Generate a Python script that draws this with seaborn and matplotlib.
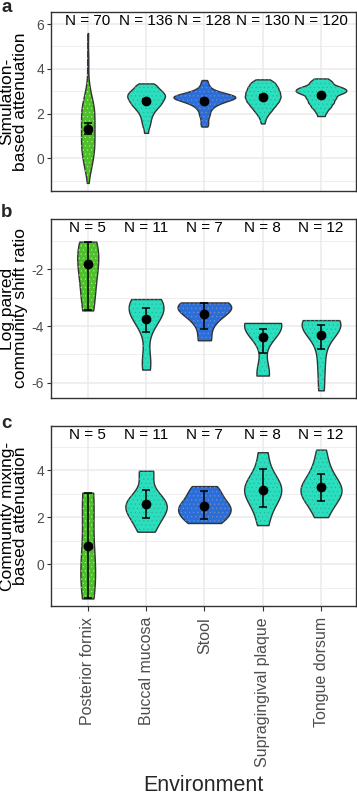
import numpy as np
import pandas as pd
import matplotlib
matplotlib.use("Agg")
import matplotlib.pyplot as plt
import matplotlib.transforms as mtransforms
from matplotlib.patches import PathPatch
import seaborn as sns

sns.set_theme(style="white")
plt.rcParams['font.family'] = ['Liberation Sans', 'DejaVu Sans']
plt.rcParams['axes.unicode_minus'] = False
plt.rcParams['hatch.linewidth'] = 0.4

categories = ["Posterior fornix", "Buccal mucosa", "Stool", "Supragingival plaque", "Tongue dorsum"]
colors = ["#4FBF2B", "#2BDEBE", "#2B6ED9", "#2BDEBE", "#2BDEBE"]

# ---------- panel a: simulation-based attenuation (value levels + counts) ----------
a_fornix_levels = [-1.1, -0.8, -0.5, -0.2, 0.1, 0.4, 0.7, 1.0, 1.3, 1.6, 1.9, 2.2, 2.5, 2.8, 3.1, 3.4, 4.0, 4.6, 5.6]
a_fornix_counts = [1, 1, 3, 4, 5, 6, 6, 6, 6, 6, 6, 6, 5, 3, 2, 1, 1, 1, 1]
a_buccal_levels = [3.35, 3.2, 3.0, 2.8, 2.6, 2.4, 2.2, 2.0, 1.8, 1.6, 1.4, 1.14]
a_buccal_counts = [7, 12, 19, 23, 20, 17, 12, 8, 6, 5, 4, 3]
a_stool_levels = [3.5, 3.4, 3.3, 3.2, 3.1, 3.0, 2.9, 2.8, 2.7, 2.6, 2.5, 2.4, 2.3, 2.2, 2.1, 2.0, 1.9, 1.8, 1.7, 1.6, 1.5, 1.42]
a_stool_counts = [2, 2, 2, 3, 4, 7, 12, 18, 19, 14, 10, 7, 5, 4, 3, 3, 3, 2, 2, 2, 2, 2]
a_supra_levels = [3.53, 3.35, 3.15, 2.95, 2.75, 2.55, 2.35, 2.15, 1.95, 1.75, 1.56]
a_supra_counts = [7, 14, 17, 19, 20, 18, 14, 10, 6, 3, 2]
a_tongue_levels = [3.57, 3.4, 3.2, 3.05, 2.9, 2.7, 2.5, 2.3, 2.1, 1.89]
a_tongue_counts = [6, 11, 16, 21, 18, 15, 13, 10, 6, 4]
a_n = [70, 136, 128, 130, 120]
a_mean = [1.33, 2.55, 2.58, 2.76, 2.82]
a_lo = [1.08, 2.47, 2.51, 2.68, 2.75]
a_hi = [1.60, 2.63, 2.65, 2.84, 2.89]

# ---------- panel b: log paired community shift ratio ----------
b_fornix = [-1.03, -1.4, -1.9, -2.6, -3.45]
b_buccal = [-3.05, -3.08, -3.15, -3.25, -3.35, -3.45, -3.55, -3.75, -4.0, -5.1, -5.53]
b_stool = [-3.17, -3.2, -3.3, -3.4, -3.55, -3.9, -4.5]
b_supra = [-3.89, -3.9, -3.93, -3.97, -4.05, -4.12, -5.62, -5.74]
b_tongue = [-3.79, -3.8, -3.82, -3.85, -3.9, -3.95, -4.0, -4.1, -4.3, -4.9, -5.5, -6.26]
b_n = [5, 11, 7, 8, 12]
b_mean = [-1.81, -3.74, -3.57, -4.40, -4.31]
b_lo = [-3.45, -4.21, -4.12, -4.93, -4.81]
b_hi = [-1.03, -3.37, -3.19, -4.11, -3.98]

# ---------- panel c: community mixing-based attenuation ----------
c_fornix = [-1.45, -0.3, 0.1, 2.5, 3.05]
c_buccal = [3.98, 3.95, 2.9, 2.8, 2.6, 2.5, 2.4, 2.2, 2.1, 1.6, 1.39]
c_stool = [3.33, 3.0, 2.6, 2.4, 2.3, 1.97, 1.76]
c_supra = [4.77, 3.8, 3.4, 3.25, 3.1, 2.9, 2.47, 1.67]
c_tongue = [4.88, 4.3, 3.9, 3.6, 3.4, 3.3, 3.15, 3.0, 2.9, 2.75, 2.4, 2.01]
c_n = [5, 11, 7, 8, 12]
c_mean = [0.78, 2.57, 2.48, 3.17, 3.28]
c_lo = [-1.45, 1.98, 1.93, 2.43, 2.69]
c_hi = [3.05, 3.15, 3.12, 4.04, 3.83]

W, H = 357, 796
fig = plt.figure(figsize=(W / 100, H / 100), dpi=100)

def axes_px(top, bottom, left=51, right=356):
    return fig.add_axes([left / W, 1 - bottom / H, (right - left) / W, (bottom - top) / H])

stipple = {"#4FBF2B": "#A6E38A", "#2BDEBE": "#22B99C", "#2B6ED9": "#6F8FCB"}

def draw_panel(ax, groups, means, lo, hi, ns, width, bw_adjust, ylim, major, minor,
               ylabel, show_x):
    df = pd.concat([pd.DataFrame({"env": c, "val": np.asarray(v, float)})
                    for c, v in zip(categories, groups)], ignore_index=True)
    sns.violinplot(data=df, x="env", y="val", hue="env", order=categories,
                   hue_order=categories, palette=dict(zip(categories, colors)),
                   cut=0, density_norm="area", common_norm=True, width=width, inner=None,
                   linewidth=1.0, linecolor="#333333", bw_adjust=bw_adjust,
                   saturation=1, legend=False, ax=ax)
    # stipple texture
    for coll, col in zip(list(ax.collections), colors):
        for p in coll.get_paths():
            patch = PathPatch(p, facecolor="none", edgecolor=stipple[col], lw=0,
                              hatch="....", zorder=coll.get_zorder() + 0.1)
            ax.add_patch(patch)
    xpos = np.arange(len(categories))
    m = np.asarray(means)
    ax.errorbar(xpos, m, yerr=[m - np.asarray(lo), np.asarray(hi) - m], fmt="none",
                ecolor="black", elinewidth=1.1, capsize=2.6, capthick=1.1, zorder=5)
    sns.pointplot(x=categories, y=means, order=categories, linestyle="none",
                  color="black", markers="o", markersize=5.0, errorbar=None, ax=ax,
                  zorder=6)
    trans = mtransforms.blended_transform_factory(ax.transData, ax.transAxes)
    for i, n in enumerate(ns):
        ax.text(i, 0.952, f"N = {n}", transform=trans, ha="center", va="center",
                fontsize=11, color="black")
    ax.set_xlim(-0.63, 4.6)
    ax.set_ylim(*ylim)
    ax.set_yticks(major)
    ax.set_yticks(minor, minor=True)
    ax.set_axisbelow(True)
    ax.grid(which="major", color="#EBEBEB", lw=1.1)
    ax.grid(which="minor", axis="y", color="#EBEBEB", lw=0.55)
    for s in ax.spines.values():
        s.set_color("#333333")
        s.set_linewidth(1.0)
    ax.tick_params(axis="y", which="major", length=3, width=0.8, color="#333333",
                   labelsize=10, labelcolor="#4D4D4D", pad=2, left=True)
    ax.tick_params(axis="y", which="minor", length=0)
    ax.set_xlabel("")
    ax.set_ylabel(ylabel, fontsize=12.5, linespacing=0.88, color="black")
    ax.yaxis.set_label_coords(-0.075, 0.5)
    if show_x:
        ax.set_xticks(xpos)
        ax.set_xticklabels(categories, rotation=90, fontsize=11.5, color="#4D4D4D")
        ax.tick_params(axis="x", length=3.5, width=0.8, color="#333333", pad=4.5, bottom=True)
    else:
        ax.set_xticks(xpos)
        ax.tick_params(axis="x", length=0, labelbottom=False)

ax_a = axes_px(12, 191)
draw_panel(ax_a,
           [np.repeat(a_fornix_levels, a_fornix_counts), np.repeat(a_buccal_levels, a_buccal_counts),
            np.repeat(a_stool_levels, a_stool_counts), np.repeat(a_supra_levels, a_supra_counts),
            np.repeat(a_tongue_levels, a_tongue_counts)],
           a_mean, a_lo, a_hi, a_n, 1.06, 0.6, (-1.46, 6.54), [0, 2, 4, 6], [-1, 1, 3, 5],
           "Simulation-\nbased attenuation", False)

ax_b = axes_px(219, 398)
draw_panel(ax_b, [b_fornix, b_buccal, b_stool, b_supra, b_tongue],
           b_mean, b_lo, b_hi, b_n, 0.92, 0.9, (-6.53, -0.235), [-6, -4, -2], [-5, -3, -1],
           "Log paired\ncommunity shift ratio", False)

ax_c = axes_px(426, 606)
draw_panel(ax_c, [c_fornix, c_buccal, c_stool, c_supra, c_tongue],
           c_mean, c_lo, c_hi, c_n, 0.9, 0.9, (-1.77, 5.885), [0, 2, 4], [-1, 1, 3, 5],
           "Community mixing-\nbased attenuation", True)

fig.text(203.5 / W, 1 - 791 / H, "Environment", ha="center", va="baseline", fontsize=15.5)
for lab, ybase in [("a", 12), ("b", 217), ("c", 428)]:
    fig.text(1 / W, 1 - ybase / H, lab, ha="left", va="baseline", fontsize=13.5,
             fontweight="bold")

fig.savefig("out.png", dpi=100)
